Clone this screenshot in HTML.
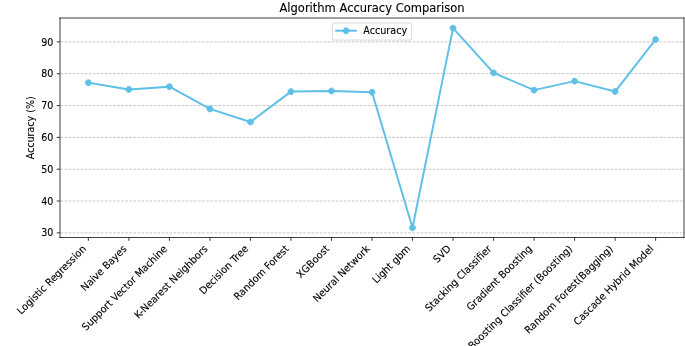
<!DOCTYPE html>
<html><head><meta charset="utf-8"><title>Algorithm Accuracy Comparison</title>
<style>html,body{margin:0;padding:0;background:#fff;}body{width:685px;height:346px;overflow:hidden;}svg{display:block;}
text{font-family:"DejaVu Sans","Liberation Sans",sans-serif;stroke:#000;stroke-width:0.12px;}</style></head>
<body>
<svg width="685" height="346" viewBox="0 0 725.294118 366.352941">
<defs>
<style type="text/css">*{stroke-linejoin: round; stroke-linecap: butt}</style>
</defs>
<g>
<g>
<path d="M 0 366.352941  L 725.294118 366.352941  L 725.294118 0  L 0 0  z " style="fill: #ffffff" />
</g>
<g>
<g>
<path d="M 63.529412 251.470588  L 724.235294 251.470588  L 724.235294 19.058824  L 63.529412 19.058824  z " style="fill: #ffffff" />
</g>
<g>
<g>
<g>
<g>
<path d="M 0 0  L 0 3.5  " transform="translate(93.561497 251.470588)" style="stroke: #000000; stroke-width: 0.8" /></g>
</g>
<g>
<text style="font-size: 10.25px; font-family: 'DejaVu Sans', sans-serif" transform="translate(22.533754 333.498236) rotate(-45) scale(1 1.05)">Logistic Regression</text>
</g>
</g>
<g>
<g>
<g>
<path d="M 0 0  L 0 3.5  " transform="translate(136.464477 251.470588)" style="stroke: #000000; stroke-width: 0.8" /></g>
</g>
<g>
<text style="font-size: 10.25px; font-family: 'DejaVu Sans', sans-serif" transform="translate(90.087332 308.847637) rotate(-45) scale(1 1.05)">Naive Bayes</text>
</g>
</g>
<g>
<g>
<g>
<path d="M 0 0  L 0 3.5  " transform="translate(179.367456 251.470588)" style="stroke: #000000; stroke-width: 0.8" /></g>
</g>
<g>
<text style="font-size: 10.25px; font-family: 'DejaVu Sans', sans-serif" transform="translate(91.163453 350.674495) rotate(-45) scale(1 1.05)">Support Vector Machine</text>
</g>
</g>
<g>
<g>
<g>
<path d="M 0 0  L 0 3.5  " transform="translate(222.270435 251.470588)" style="stroke: #000000; stroke-width: 0.8" /></g>
</g>
<g>
<text style="font-size: 10.25px; font-family: 'DejaVu Sans', sans-serif" transform="translate(146.754691 337.986237) rotate(-45) scale(1 1.05)">K-Nearest Neighbors</text>
</g>
</g>
<g>
<g>
<g>
<path d="M 0 0  L 0 3.5  " transform="translate(265.173415 251.470588)" style="stroke: #000000; stroke-width: 0.8" /></g>
</g>
<g>
<text style="font-size: 10.25px; font-family: 'DejaVu Sans', sans-serif" transform="translate(215.412432 312.231475) rotate(-45) scale(1 1.05)">Decision Tree</text>
</g>
</g>
<g>
<g>
<g>
<path d="M 0 0  L 0 3.5  " transform="translate(308.076394 251.470588)" style="stroke: #000000; stroke-width: 0.8" /></g>
</g>
<g>
<text style="font-size: 10.25px; font-family: 'DejaVu Sans', sans-serif" transform="translate(252.027907 318.51898) rotate(-45) scale(1 1.05)">Random Forest</text>
</g>
</g>
<g>
<g>
<g>
<path d="M 0 0  L 0 3.5  " transform="translate(350.979374 251.470588)" style="stroke: #000000; stroke-width: 0.8" /></g>
</g>
<g>
<text style="font-size: 10.25px; font-family: 'DejaVu Sans', sans-serif" transform="translate(318.432022 295.017844) rotate(-45) scale(1 1.05)">XGBoost</text>
</g>
</g>
<g>
<g>
<g>
<path d="M 0 0  L 0 3.5  " transform="translate(393.882353 251.470588)" style="stroke: #000000; stroke-width: 0.8" /></g>
</g>
<g>
<text style="font-size: 10.25px; font-family: 'DejaVu Sans', sans-serif" transform="translate(335.899597 320.453248) rotate(-45) scale(1 1.05)">Neural Network</text>
</g>
</g>
<g>
<g>
<g>
<path d="M 0 0  L 0 3.5  " transform="translate(436.785332 251.470588)" style="stroke: #000000; stroke-width: 0.8" /></g>
</g>
<g>
<text style="font-size: 10.25px; font-family: 'DejaVu Sans', sans-serif" transform="translate(398.624299 300.631526) rotate(-45) scale(1 1.05)">Light gbm</text>
</g>
</g>
<g>
<g>
<g>
<path d="M 0 0  L 0 3.5  " transform="translate(479.688312 251.470588)" style="stroke: #000000; stroke-width: 0.8" /></g>
</g>
<g>
<text style="font-size: 10.25px; font-family: 'DejaVu Sans', sans-serif" transform="translate(463.040919 279.117885) rotate(-45) scale(1 1.05)">SVD</text>
</g>
</g>
<g>
<g>
<g>
<path d="M 0 0  L 0 3.5  " transform="translate(522.591291 251.470588)" style="stroke: #000000; stroke-width: 0.8" /></g>
</g>
<g>
<text style="font-size: 10.25px; font-family: 'DejaVu Sans', sans-serif" transform="translate(454.420784 330.641) rotate(-45) scale(1 1.05)">Stacking Classifier</text>
</g>
</g>
<g>
<g>
<g>
<path d="M 0 0  L 0 3.5  " transform="translate(565.49427 251.470588)" style="stroke: #000000; stroke-width: 0.8" /></g>
</g>
<g>
<text style="font-size: 10.25px; font-family: 'DejaVu Sans', sans-serif" transform="translate(498.469828 329.494935) rotate(-45) scale(1 1.05)">Gradient Boosting</text>
</g>
</g>
<g>
<g>
<g>
<path d="M 0 0  L 0 3.5  " transform="translate(608.39725 251.470588)" style="stroke: #000000; stroke-width: 0.8" /></g>
</g>
<g>
<text style="font-size: 10.25px; font-family: 'DejaVu Sans', sans-serif" transform="translate(500.207316 370.660426) rotate(-45) scale(1 1.05)">Boosting Classifier (Boosting)</text>
</g>
</g>
<g>
<g>
<g>
<path d="M 0 0  L 0 3.5  " transform="translate(651.300229 251.470588)" style="stroke: #000000; stroke-width: 0.8" /></g>
</g>
<g>
<text style="font-size: 10.25px; font-family: 'DejaVu Sans', sans-serif" transform="translate(559.771278 353.999444) rotate(-45) scale(1 1.05)">Random Forest(Bagging)</text>
</g>
</g>
<g>
<g>
<g>
<path d="M 0 0  L 0 3.5  " transform="translate(694.203209 251.470588)" style="stroke: #000000; stroke-width: 0.8" /></g>
</g>
<g>
<text style="font-size: 10.25px; font-family: 'DejaVu Sans', sans-serif" transform="translate(611.624213 345.049488) rotate(-45) scale(1 1.05)">Cascade Hybrid Model</text>
</g>
</g>
</g>
<g>
<g>
<g>
<path d="M 63.529412 246.550751  L 724.235294 246.550751  " clip-path="url(#p38c630d622)" style="fill: none; stroke-dasharray: 2.9907,1.2933; stroke-dashoffset: -0.4024; stroke: #b0b0b0; stroke-opacity: 0.9; stroke-width: 0.8" />
</g>
<g>
<g>
<path d="M 0 0  L -3.5 0  " transform="translate(63.529412 246.550751)" style="stroke: #000000; stroke-width: 0.8" /></g>
</g>
<g>
<text style="font-size: 10.1px; font-family: 'DejaVu Sans', sans-serif; text-anchor: end" transform="translate(56.529412 250.387962) scale(1 1.05)">30</text>
</g>
</g>
<g>
<g>
<path d="M 63.529412 212.853235  L 724.235294 212.853235  " clip-path="url(#p38c630d622)" style="fill: none; stroke-dasharray: 2.9907,1.2933; stroke-dashoffset: -0.4024; stroke: #b0b0b0; stroke-opacity: 0.9; stroke-width: 0.8" />
</g>
<g>
<g>
<path d="M 0 0  L -3.5 0  " transform="translate(63.529412 212.853235)" style="stroke: #000000; stroke-width: 0.8" /></g>
</g>
<g>
<text style="font-size: 10.1px; font-family: 'DejaVu Sans', sans-serif; text-anchor: end" transform="translate(56.529412 216.690446) scale(1 1.05)">40</text>
</g>
</g>
<g>
<g>
<path d="M 63.529412 179.15572  L 724.235294 179.15572  " clip-path="url(#p38c630d622)" style="fill: none; stroke-dasharray: 2.9907,1.2933; stroke-dashoffset: -0.4024; stroke: #b0b0b0; stroke-opacity: 0.9; stroke-width: 0.8" />
</g>
<g>
<g>
<path d="M 0 0  L -3.5 0  " transform="translate(63.529412 179.15572)" style="stroke: #000000; stroke-width: 0.8" /></g>
</g>
<g>
<text style="font-size: 10.1px; font-family: 'DejaVu Sans', sans-serif; text-anchor: end" transform="translate(56.529412 182.992931) scale(1 1.05)">50</text>
</g>
</g>
<g>
<g>
<path d="M 63.529412 145.458204  L 724.235294 145.458204  " clip-path="url(#p38c630d622)" style="fill: none; stroke-dasharray: 2.9907,1.2933; stroke-dashoffset: -0.4024; stroke: #b0b0b0; stroke-opacity: 0.9; stroke-width: 0.8" />
</g>
<g>
<g>
<path d="M 0 0  L -3.5 0  " transform="translate(63.529412 145.458204)" style="stroke: #000000; stroke-width: 0.8" /></g>
</g>
<g>
<text style="font-size: 10.1px; font-family: 'DejaVu Sans', sans-serif; text-anchor: end" transform="translate(56.529412 149.295415) scale(1 1.05)">60</text>
</g>
</g>
<g>
<g>
<path d="M 63.529412 111.760689  L 724.235294 111.760689  " clip-path="url(#p38c630d622)" style="fill: none; stroke-dasharray: 2.9907,1.2933; stroke-dashoffset: -0.4024; stroke: #b0b0b0; stroke-opacity: 0.9; stroke-width: 0.8" />
</g>
<g>
<g>
<path d="M 0 0  L -3.5 0  " transform="translate(63.529412 111.760689)" style="stroke: #000000; stroke-width: 0.8" /></g>
</g>
<g>
<text style="font-size: 10.1px; font-family: 'DejaVu Sans', sans-serif; text-anchor: end" transform="translate(56.529412 115.5979) scale(1 1.05)">70</text>
</g>
</g>
<g>
<g>
<path d="M 63.529412 78.063173  L 724.235294 78.063173  " clip-path="url(#p38c630d622)" style="fill: none; stroke-dasharray: 2.9907,1.2933; stroke-dashoffset: -0.4024; stroke: #b0b0b0; stroke-opacity: 0.9; stroke-width: 0.8" />
</g>
<g>
<g>
<path d="M 0 0  L -3.5 0  " transform="translate(63.529412 78.063173)" style="stroke: #000000; stroke-width: 0.8" /></g>
</g>
<g>
<text style="font-size: 10.1px; font-family: 'DejaVu Sans', sans-serif; text-anchor: end" transform="translate(56.529412 81.900384) scale(1 1.05)">80</text>
</g>
</g>
<g>
<g>
<path d="M 63.529412 44.365658  L 724.235294 44.365658  " clip-path="url(#p38c630d622)" style="fill: none; stroke-dasharray: 2.9907,1.2933; stroke-dashoffset: -0.4024; stroke: #b0b0b0; stroke-opacity: 0.9; stroke-width: 0.8" />
</g>
<g>
<g>
<path d="M 0 0  L -3.5 0  " transform="translate(63.529412 44.365658)" style="stroke: #000000; stroke-width: 0.8" /></g>
</g>
<g>
<text style="font-size: 10.1px; font-family: 'DejaVu Sans', sans-serif; text-anchor: end" transform="translate(56.529412 48.202869) scale(1 1.05)">90</text>
</g>
</g>
<g>
<text style="font-size: 10.1px; font-family: 'DejaVu Sans', sans-serif; text-anchor: middle" transform="translate(36.276677 135.264706) rotate(-90) scale(1 1.05)">Accuracy (%)</text>
</g>
</g>
<g>
<path d="M 93.561497 87.565873  L 136.464477 94.676048  L 179.367456 91.744365  L 222.270435 115.298928  L 265.173415 129.182304  L 308.076394 97.001177  L 350.979374 96.360924  L 393.882353 97.64143  L 436.785332 241.192846  L 479.688312 29.808331  L 522.591291 77.15334  L 565.49427 95.417394  L 608.39725 85.914694  L 651.300229 96.900084  L 694.203209 41.838344  " clip-path="url(#p38c630d622)" style="fill: none; stroke: #5fc0e7; stroke-width: 2.1; stroke-linecap: square" />
<g clip-path="url(#p38c630d622)">
<path d="M 0 3.1  C 0.82213 3.1 1.610698 2.773364 2.192031 2.192031  C 2.773364 1.610698 3.1 0.82213 3.1 0  C 3.1 -0.82213 2.773364 -1.610698 2.192031 -2.192031  C 1.610698 -2.773364 0.82213 -3.1 0 -3.1  C -0.82213 -3.1 -1.610698 -2.773364 -2.192031 -2.192031  C -2.773364 -1.610698 -3.1 -0.82213 -3.1 0  C -3.1 0.82213 -2.773364 1.610698 -2.192031 2.192031  C -1.610698 2.773364 -0.82213 3.1 0 3.1  z " transform="translate(93.561497 87.565873)" style="fill: #5fc0e7; stroke: #5fc0e7" /><path d="M 0 3.1  C 0.82213 3.1 1.610698 2.773364 2.192031 2.192031  C 2.773364 1.610698 3.1 0.82213 3.1 0  C 3.1 -0.82213 2.773364 -1.610698 2.192031 -2.192031  C 1.610698 -2.773364 0.82213 -3.1 0 -3.1  C -0.82213 -3.1 -1.610698 -2.773364 -2.192031 -2.192031  C -2.773364 -1.610698 -3.1 -0.82213 -3.1 0  C -3.1 0.82213 -2.773364 1.610698 -2.192031 2.192031  C -1.610698 2.773364 -0.82213 3.1 0 3.1  z " transform="translate(136.464477 94.676048)" style="fill: #5fc0e7; stroke: #5fc0e7" /><path d="M 0 3.1  C 0.82213 3.1 1.610698 2.773364 2.192031 2.192031  C 2.773364 1.610698 3.1 0.82213 3.1 0  C 3.1 -0.82213 2.773364 -1.610698 2.192031 -2.192031  C 1.610698 -2.773364 0.82213 -3.1 0 -3.1  C -0.82213 -3.1 -1.610698 -2.773364 -2.192031 -2.192031  C -2.773364 -1.610698 -3.1 -0.82213 -3.1 0  C -3.1 0.82213 -2.773364 1.610698 -2.192031 2.192031  C -1.610698 2.773364 -0.82213 3.1 0 3.1  z " transform="translate(179.367456 91.744365)" style="fill: #5fc0e7; stroke: #5fc0e7" /><path d="M 0 3.1  C 0.82213 3.1 1.610698 2.773364 2.192031 2.192031  C 2.773364 1.610698 3.1 0.82213 3.1 0  C 3.1 -0.82213 2.773364 -1.610698 2.192031 -2.192031  C 1.610698 -2.773364 0.82213 -3.1 0 -3.1  C -0.82213 -3.1 -1.610698 -2.773364 -2.192031 -2.192031  C -2.773364 -1.610698 -3.1 -0.82213 -3.1 0  C -3.1 0.82213 -2.773364 1.610698 -2.192031 2.192031  C -1.610698 2.773364 -0.82213 3.1 0 3.1  z " transform="translate(222.270435 115.298928)" style="fill: #5fc0e7; stroke: #5fc0e7" /><path d="M 0 3.1  C 0.82213 3.1 1.610698 2.773364 2.192031 2.192031  C 2.773364 1.610698 3.1 0.82213 3.1 0  C 3.1 -0.82213 2.773364 -1.610698 2.192031 -2.192031  C 1.610698 -2.773364 0.82213 -3.1 0 -3.1  C -0.82213 -3.1 -1.610698 -2.773364 -2.192031 -2.192031  C -2.773364 -1.610698 -3.1 -0.82213 -3.1 0  C -3.1 0.82213 -2.773364 1.610698 -2.192031 2.192031  C -1.610698 2.773364 -0.82213 3.1 0 3.1  z " transform="translate(265.173415 129.182304)" style="fill: #5fc0e7; stroke: #5fc0e7" /><path d="M 0 3.1  C 0.82213 3.1 1.610698 2.773364 2.192031 2.192031  C 2.773364 1.610698 3.1 0.82213 3.1 0  C 3.1 -0.82213 2.773364 -1.610698 2.192031 -2.192031  C 1.610698 -2.773364 0.82213 -3.1 0 -3.1  C -0.82213 -3.1 -1.610698 -2.773364 -2.192031 -2.192031  C -2.773364 -1.610698 -3.1 -0.82213 -3.1 0  C -3.1 0.82213 -2.773364 1.610698 -2.192031 2.192031  C -1.610698 2.773364 -0.82213 3.1 0 3.1  z " transform="translate(308.076394 97.001177)" style="fill: #5fc0e7; stroke: #5fc0e7" /><path d="M 0 3.1  C 0.82213 3.1 1.610698 2.773364 2.192031 2.192031  C 2.773364 1.610698 3.1 0.82213 3.1 0  C 3.1 -0.82213 2.773364 -1.610698 2.192031 -2.192031  C 1.610698 -2.773364 0.82213 -3.1 0 -3.1  C -0.82213 -3.1 -1.610698 -2.773364 -2.192031 -2.192031  C -2.773364 -1.610698 -3.1 -0.82213 -3.1 0  C -3.1 0.82213 -2.773364 1.610698 -2.192031 2.192031  C -1.610698 2.773364 -0.82213 3.1 0 3.1  z " transform="translate(350.979374 96.360924)" style="fill: #5fc0e7; stroke: #5fc0e7" /><path d="M 0 3.1  C 0.82213 3.1 1.610698 2.773364 2.192031 2.192031  C 2.773364 1.610698 3.1 0.82213 3.1 0  C 3.1 -0.82213 2.773364 -1.610698 2.192031 -2.192031  C 1.610698 -2.773364 0.82213 -3.1 0 -3.1  C -0.82213 -3.1 -1.610698 -2.773364 -2.192031 -2.192031  C -2.773364 -1.610698 -3.1 -0.82213 -3.1 0  C -3.1 0.82213 -2.773364 1.610698 -2.192031 2.192031  C -1.610698 2.773364 -0.82213 3.1 0 3.1  z " transform="translate(393.882353 97.64143)" style="fill: #5fc0e7; stroke: #5fc0e7" /><path d="M 0 3.1  C 0.82213 3.1 1.610698 2.773364 2.192031 2.192031  C 2.773364 1.610698 3.1 0.82213 3.1 0  C 3.1 -0.82213 2.773364 -1.610698 2.192031 -2.192031  C 1.610698 -2.773364 0.82213 -3.1 0 -3.1  C -0.82213 -3.1 -1.610698 -2.773364 -2.192031 -2.192031  C -2.773364 -1.610698 -3.1 -0.82213 -3.1 0  C -3.1 0.82213 -2.773364 1.610698 -2.192031 2.192031  C -1.610698 2.773364 -0.82213 3.1 0 3.1  z " transform="translate(436.785332 241.192846)" style="fill: #5fc0e7; stroke: #5fc0e7" /><path d="M 0 3.1  C 0.82213 3.1 1.610698 2.773364 2.192031 2.192031  C 2.773364 1.610698 3.1 0.82213 3.1 0  C 3.1 -0.82213 2.773364 -1.610698 2.192031 -2.192031  C 1.610698 -2.773364 0.82213 -3.1 0 -3.1  C -0.82213 -3.1 -1.610698 -2.773364 -2.192031 -2.192031  C -2.773364 -1.610698 -3.1 -0.82213 -3.1 0  C -3.1 0.82213 -2.773364 1.610698 -2.192031 2.192031  C -1.610698 2.773364 -0.82213 3.1 0 3.1  z " transform="translate(479.688312 29.808331)" style="fill: #5fc0e7; stroke: #5fc0e7" /><path d="M 0 3.1  C 0.82213 3.1 1.610698 2.773364 2.192031 2.192031  C 2.773364 1.610698 3.1 0.82213 3.1 0  C 3.1 -0.82213 2.773364 -1.610698 2.192031 -2.192031  C 1.610698 -2.773364 0.82213 -3.1 0 -3.1  C -0.82213 -3.1 -1.610698 -2.773364 -2.192031 -2.192031  C -2.773364 -1.610698 -3.1 -0.82213 -3.1 0  C -3.1 0.82213 -2.773364 1.610698 -2.192031 2.192031  C -1.610698 2.773364 -0.82213 3.1 0 3.1  z " transform="translate(522.591291 77.15334)" style="fill: #5fc0e7; stroke: #5fc0e7" /><path d="M 0 3.1  C 0.82213 3.1 1.610698 2.773364 2.192031 2.192031  C 2.773364 1.610698 3.1 0.82213 3.1 0  C 3.1 -0.82213 2.773364 -1.610698 2.192031 -2.192031  C 1.610698 -2.773364 0.82213 -3.1 0 -3.1  C -0.82213 -3.1 -1.610698 -2.773364 -2.192031 -2.192031  C -2.773364 -1.610698 -3.1 -0.82213 -3.1 0  C -3.1 0.82213 -2.773364 1.610698 -2.192031 2.192031  C -1.610698 2.773364 -0.82213 3.1 0 3.1  z " transform="translate(565.49427 95.417394)" style="fill: #5fc0e7; stroke: #5fc0e7" /><path d="M 0 3.1  C 0.82213 3.1 1.610698 2.773364 2.192031 2.192031  C 2.773364 1.610698 3.1 0.82213 3.1 0  C 3.1 -0.82213 2.773364 -1.610698 2.192031 -2.192031  C 1.610698 -2.773364 0.82213 -3.1 0 -3.1  C -0.82213 -3.1 -1.610698 -2.773364 -2.192031 -2.192031  C -2.773364 -1.610698 -3.1 -0.82213 -3.1 0  C -3.1 0.82213 -2.773364 1.610698 -2.192031 2.192031  C -1.610698 2.773364 -0.82213 3.1 0 3.1  z " transform="translate(608.39725 85.914694)" style="fill: #5fc0e7; stroke: #5fc0e7" /><path d="M 0 3.1  C 0.82213 3.1 1.610698 2.773364 2.192031 2.192031  C 2.773364 1.610698 3.1 0.82213 3.1 0  C 3.1 -0.82213 2.773364 -1.610698 2.192031 -2.192031  C 1.610698 -2.773364 0.82213 -3.1 0 -3.1  C -0.82213 -3.1 -1.610698 -2.773364 -2.192031 -2.192031  C -2.773364 -1.610698 -3.1 -0.82213 -3.1 0  C -3.1 0.82213 -2.773364 1.610698 -2.192031 2.192031  C -1.610698 2.773364 -0.82213 3.1 0 3.1  z " transform="translate(651.300229 96.900084)" style="fill: #5fc0e7; stroke: #5fc0e7" /><path d="M 0 3.1  C 0.82213 3.1 1.610698 2.773364 2.192031 2.192031  C 2.773364 1.610698 3.1 0.82213 3.1 0  C 3.1 -0.82213 2.773364 -1.610698 2.192031 -2.192031  C 1.610698 -2.773364 0.82213 -3.1 0 -3.1  C -0.82213 -3.1 -1.610698 -2.773364 -2.192031 -2.192031  C -2.773364 -1.610698 -3.1 -0.82213 -3.1 0  C -3.1 0.82213 -2.773364 1.610698 -2.192031 2.192031  C -1.610698 2.773364 -0.82213 3.1 0 3.1  z " transform="translate(694.203209 41.838344)" style="fill: #5fc0e7; stroke: #5fc0e7" /></g>
</g>
<g>
<path d="M 63.529412 251.470588  L 63.529412 19.058824  " style="fill: none; stroke: #000000; stroke-width: 0.8; stroke-linejoin: miter; stroke-linecap: square" />
</g>
<g>
<path d="M 724.235294 251.470588  L 724.235294 19.058824  " style="fill: none; stroke: #000000; stroke-width: 0.8; stroke-linejoin: miter; stroke-linecap: square" />
</g>
<g>
<path d="M 63.529412 251.470588  L 724.235294 251.470588  " style="fill: none; stroke: #000000; stroke-width: 0.8; stroke-linejoin: miter; stroke-linecap: square" />
</g>
<g>
<path d="M 63.529412 19.058824  L 724.235294 19.058824  " style="fill: none; stroke: #000000; stroke-width: 0.8; stroke-linejoin: miter; stroke-linecap: square" />
</g>
<g>
<text style="font-size: 12.2px; font-family: 'DejaVu Sans', sans-serif; text-anchor: middle" transform="translate(393.882353 13.058824) scale(1 1.05)">Algorithm Accuracy Comparison</text>
</g>
<g>
<g>
<path d="M 353.957665 42.450511  L 433.80704 42.450511  Q 435.88704 42.450511 435.88704 40.370511  L 435.88704 26.338824  Q 435.88704 24.258824 433.80704 24.258824  L 353.957665 24.258824  Q 351.877665 24.258824 351.877665 26.338824  L 351.877665 40.370511  Q 351.877665 42.450511 353.957665 42.450511  z " style="fill: #ffffff; opacity: 0.8; stroke: #cccccc; stroke-linejoin: miter" />
</g>
<g>
<path d="M 356.037665 32.52923  L 366.437665 32.52923  L 376.837665 32.52923  " style="fill: none; stroke: #5fc0e7; stroke-width: 2.1; stroke-linecap: square" />
<g>
<path d="M 0 3.1  C 0.82213 3.1 1.610698 2.773364 2.192031 2.192031  C 2.773364 1.610698 3.1 0.82213 3.1 0  C 3.1 -0.82213 2.773364 -1.610698 2.192031 -2.192031  C 1.610698 -2.773364 0.82213 -3.1 0 -3.1  C -0.82213 -3.1 -1.610698 -2.773364 -2.192031 -2.192031  C -2.773364 -1.610698 -3.1 -0.82213 -3.1 0  C -3.1 0.82213 -2.773364 1.610698 -2.192031 2.192031  C -1.610698 2.773364 -0.82213 3.1 0 3.1  z " transform="translate(366.437665 32.52923)" style="fill: #5fc0e7; stroke: #5fc0e7" /></g>
</g>
<g>
<text style="font-size: 10.2px; font-family: 'DejaVu Sans', sans-serif; text-anchor: start" transform="translate(384.628253 36.16923) scale(1 1.05)">Accuracy</text>
</g>
</g>
</g>
</g>
<defs>
<clipPath id="p38c630d622">
<rect x="63.529412" y="19.058824" width="660.705882" height="232.411765" />
</clipPath>
</defs>
</svg>
</body></html>
